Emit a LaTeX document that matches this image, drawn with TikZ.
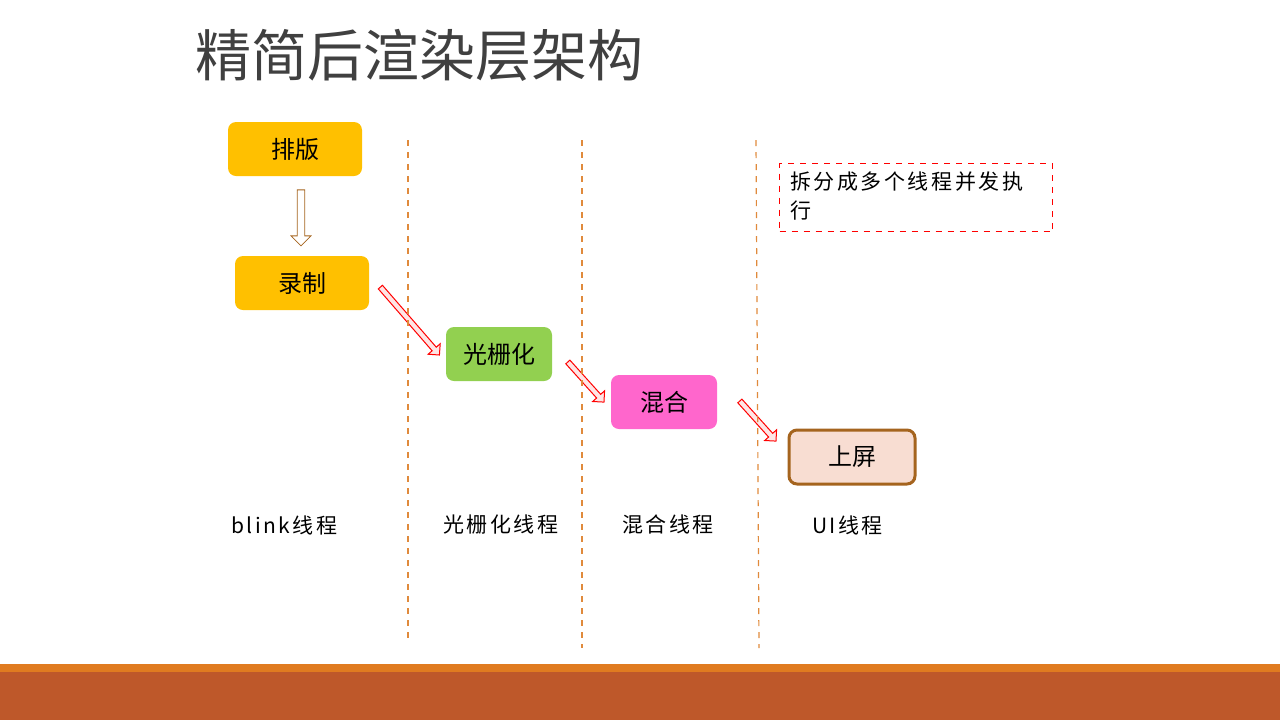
\documentclass[tikz,border=0pt]{standalone}
\usepackage{fontspec}
\setmainfont{Noto Sans CJK SC}
\usetikzlibrary{shapes.arrows,calc}
\definecolor{gold}{HTML}{FFC000}
\definecolor{lgreen}{HTML}{92D050}
\definecolor{pinkc}{HTML}{FF66CC}
\definecolor{peach}{HTML}{F8DDD2}
\definecolor{brownb}{HTML}{A5641E}
\definecolor{orangeline}{HTML}{E08A3C}
\definecolor{barA}{HTML}{E07B20}
\definecolor{barB}{HTML}{BE582A}
\tikzset{
 box/.style={rounded corners=4pt,minimum height=27pt,font=\fontsize{12}{14}\selectfont,inner sep=0pt},
 sep/.style={orangeline,dashed,line width=0.6pt},
 lab/.style={anchor=west,font=\fontsize{10.5}{12}\selectfont\addfontfeature{LetterSpace=12}},
 harrow/.style={single arrow,draw=red,fill=pink!40,minimum height=#1,single arrow head extend=2pt,minimum width=8pt,inner sep=0.8pt,line width=0.5pt}
}
\begin{document}
\begin{tikzpicture}[x=0.5pt,y=-0.5pt]
\useasboundingbox (0,0) rectangle (1280,720);
\node[anchor=west,text=black!75,font=\fontsize{28}{32}\selectfont] (title) at (188,55) {精简后渲染层架构};
\node[box,fill=gold,minimum width=67pt] (pb) at (295,149) {排版};
\node[box,fill=gold,minimum width=67pt] (lz) at (302,283) {录制};
\node[box,fill=lgreen,minimum width=53pt] (gs) at (499,354) {光栅化};
\node[box,fill=pinkc,minimum width=53pt] (hh) at (664,402) {混合};
\node[box,fill=peach,draw=brownb,line width=1.5pt,minimum width=63pt,minimum height=27pt] (sp) at (852,457) {上屏};
\node[single arrow,draw=brownb,fill=white,rotate=-90,minimum height=28pt,minimum width=10pt,single arrow head extend=2pt,inner sep=1pt] (a0) at (301,216) {};
\node[harrow=45pt,rotate=-49] (a1) at (409,320) {};
\node[harrow=27pt,rotate=-48] (a2) at (585,381) {};
\node[harrow=27pt,rotate=-48] (a3) at (757,420) {};
\draw[sep] (408,140) -- (408,640);
\draw[sep] (582,140) -- (582,648);
\draw[sep] (756,140) -- (759,648);
\node[draw=red,dashed,line width=0.5pt,anchor=north west,minimum width=136.5pt,minimum height=34pt] (note) at (779,163) {};
\node[anchor=north west,align=left,inner sep=0pt,font=\fontsize{10.5}{14.5}\selectfont\addfontfeature{LetterSpace=12}] (notetext) at (790,171) {拆分成多个线程并发执\\行};
\node[lab] (l1) at (224,525) {blink线程};
\node[lab] (l2) at (436,525) {光栅化线程};
\node[lab] (l3) at (615,525) {混合线程};
\node[lab] (l4) at (805,525) {UI线程};
\fill[barA] (0,664) rectangle (1280,672);
\fill[barB] (0,672) rectangle (1280,720);
\end{tikzpicture}
\end{document}
